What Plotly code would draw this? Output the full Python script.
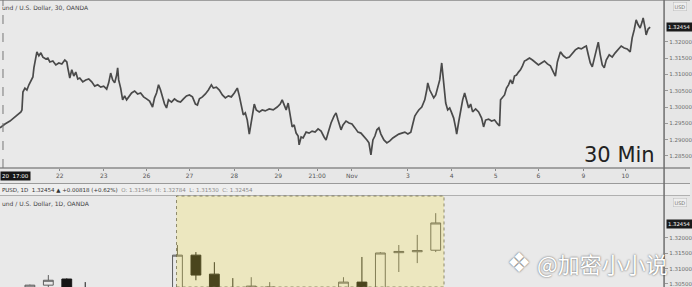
import plotly.graph_objects as go

# ---------------- data ----------------
# 30-minute GBP/USD closes (bar index along the top chart)
bar_index = [0,5,10,15,18,21,22,23,25,27,29,31,33,34,36,37,39,41,43,46,48,50,53,56,59,62,65,67,68,70,
             72,74,76,78,80,83,86,89,92,95,98,101,104,107,109,111,113,115,117,118,119,121,123,125,127,129,132,135,138,141,
             144,147,150,153,155,157,159,161,163,165,167,169,172,175,178,181,184,187,190,193,196,198,200,203,206,209,212,214,217,220,
             223,226,229,232,235,238,240,242,244,246,248,250,252,254,255,257,260,263,266,270,274,278,281,283,285,287,289,291,293,295,
             297,299,300,302,304,307,310,313,316,319,322,325,327,329,332,335,337,339,342,344,347,350,353,356,359,362,365,368,370,372,
             374,376,378,380,382,385,388,391,394,397,400,403,406,409,412,414,416,418,420,423,426,428,429,431,433,435,437,439,441,443,
             445,447,449,451,453,455,457,458,460,462,464,466,468,470,472,474,477,480,483,485,487,490,493,496,499,501,502,504,506,508,
             510,512,514,516,518,520,522,524,526,528,531,534,537,540,543,546,549,552,555,557,559,562,565,568,571,574,577,580,583,586,
             588,590,592,594,596,598,600,602,604,606,608,611,614,617,620,623,626,629,632,634,636,638,640,642,644,645,647,648,650,652]
close_30m = [1.2936,1.2948,1.2957,1.2969,1.2976,1.2985,1.2991,1.3046,1.3058,1.3052,1.3068,1.3083,1.3092,1.3120,1.3160,1.3169,1.3157,1.3166,1.3153,1.3147,
             1.3150,1.3138,1.3141,1.3129,1.3135,1.3132,1.3144,1.3138,1.3120,1.3089,1.3114,1.3095,1.3107,1.3086,1.3089,1.3077,1.3083,1.3086,1.3077,1.3064,
             1.3068,1.3061,1.3064,1.3055,1.3074,1.3104,1.3083,1.3074,1.3098,1.3120,1.3083,1.3058,1.3022,1.3034,1.3022,1.3031,1.3043,1.3049,1.3040,1.3043,
             1.3031,1.3025,1.3018,1.3000,1.3028,1.3043,1.3068,1.3052,1.3031,1.3009,1.2997,1.3022,1.3015,1.3025,1.3018,1.3015,1.3025,1.3034,1.3037,1.3031,
             1.3009,1.3006,1.3025,1.3031,1.3040,1.3052,1.3068,1.3058,1.3061,1.3052,1.3037,1.3028,1.3034,1.3031,1.3043,1.3058,1.3034,1.3003,1.2976,1.2982,
             1.2960,1.2917,1.2954,1.2991,1.3009,1.2991,1.2985,1.2991,1.2988,1.2994,1.2991,1.3000,1.3009,1.3022,1.3003,1.2991,1.3012,1.2976,1.2939,1.2945,
             1.2920,1.2911,1.2884,1.2908,1.2905,1.2923,1.2920,1.2926,1.2923,1.2933,1.2926,1.2908,1.2899,1.2920,1.2951,1.2972,1.2982,1.2960,1.2930,1.2945,
             1.2957,1.2951,1.2948,1.2936,1.2923,1.2920,1.2911,1.2899,1.2890,1.2853,1.2899,1.2911,1.2930,1.2936,1.2917,1.2899,1.2890,1.2896,1.2905,1.2911,
             1.2917,1.2920,1.2923,1.2917,1.2923,1.2948,1.2972,1.2982,1.2991,1.3000,1.3022,1.3052,1.3074,1.3052,1.3037,1.3028,1.3037,1.3058,1.3083,1.3135,
             1.3083,1.3012,1.2991,1.2997,1.2982,1.2966,1.2936,1.2917,1.2954,1.2991,1.3022,1.3043,1.3015,1.2997,1.3009,1.2985,1.2994,1.2985,1.2966,1.2939,
             1.2960,1.2963,1.2957,1.2960,1.2948,1.2942,1.3022,1.3031,1.3037,1.3058,1.3068,1.3083,1.3071,1.3095,1.3098,1.3107,1.3114,1.3126,1.3141,1.3144,
             1.3150,1.3144,1.3135,1.3129,1.3135,1.3141,1.3132,1.3126,1.3107,1.3095,1.3138,1.3169,1.3157,1.3150,1.3153,1.3166,1.3175,1.3181,1.3178,1.3184,
             1.3187,1.3160,1.3135,1.3123,1.3150,1.3175,1.3199,1.3160,1.3129,1.3120,1.3144,1.3160,1.3153,1.3166,1.3175,1.3187,1.3181,1.3178,1.3169,1.3212,
             1.3236,1.3267,1.3252,1.3242,1.3261,1.3273,1.3242,1.3221,1.3239,1.3245]
assert len(bar_index) == len(close_30m)

# Daily candles (only the ones whose tops show in the crop)
day_index = [0, 1, 2, 3, 8, 9, 10, 11, 12, 13, 17, 18, 19, 20, 21, 22]
d_open  = [1.3020, 1.3046, 1.3066, 1.2990, 1.2980, 1.3144, 1.3082, 1.3030, 1.3020, 1.3010, 1.3020, 1.3056, 1.3010, 1.3152, 1.3155, 1.3160]
d_high  = [1.3048, 1.3079, 1.3068, 1.3056, 1.3177, 1.3154, 1.3121, 1.3069, 1.3072, 1.3056, 1.3072, 1.3138, 1.3154, 1.3177, 1.3210, 1.3281]
d_low   = [1.3000, 1.3030, 1.2960, 1.2920, 1.2960, 1.3062, 1.2990, 1.2980, 1.3000, 1.2990, 1.3000, 1.2980, 1.2990, 1.3089, 1.3118, 1.3154]
d_close = [1.3046, 1.3062, 1.2990, 1.2950, 1.3144, 1.3079, 1.3010, 1.3000, 1.3043, 1.3040, 1.3056, 1.3000, 1.3151, 1.3156, 1.3159, 1.3249]

x_tick_pos  = [60, 104, 147, 190, 235, 279, 318, 353, 409, 453, 497, 540, 585, 627]
x_tick_text = ["22", "23", "26", "27", "28", "29", "21:00", "Nov", "3", "4", "5", "6", "9", "10"]
top_price_ticks = [1.285, 1.290, 1.295, 1.300, 1.305, 1.310, 1.315, 1.320]
bottom_price_ticks = [1.305, 1.310, 1.315, 1.320]
last_price = 1.32454
highlight_days = [7.95, 22.45]

# ---------------- figure ----------------
W, H = 692, 287
XR = 666 / W          # right edge of plot areas
TOP_Y0 = 1 - 168 / H  # bottom of 30m panel
BOT_Y1 = 1 - 196 / H  # top of daily panel
BG = "#e9e9e9"
FONT = "DejaVu Sans"

fig = go.Figure()

fig.add_trace(go.Scatter(
    x=bar_index, y=close_30m, mode="lines",
    line=dict(color="#4a4a4a", width=1.7),
    xaxis="x", yaxis="y", hoverinfo="skip"))

fig.add_trace(go.Candlestick(
    x=day_index, open=d_open, high=d_high, low=d_low, close=d_close,
    xaxis="x2", yaxis="y2",
    increasing=dict(line=dict(color="#5e5e5e", width=1), fillcolor=BG),
    decreasing=dict(line=dict(color="#1a1a1a", width=1), fillcolor="#151515"),
    whiskerwidth=0, hoverinfo="skip"))

tickfont = dict(family=FONT, size=5.5, color="#6a6a6a")

fig.update_layout(
    width=W, height=H, margin=dict(l=0, r=0, t=0, b=0),
    paper_bgcolor="#e6e6e6", plot_bgcolor=BG, showlegend=False,
    boxgap=0.24,
    xaxis=dict(domain=[0, XR], range=[0, 666], anchor="y",
               tickvals=x_tick_pos, ticktext=x_tick_text,
               ticks="outside", ticklen=2, tickcolor="#888",
               tickfont=dict(family=FONT, size=6, color="#555"),
               showgrid=False, zeroline=False, showline=False, fixedrange=True),
    yaxis=dict(domain=[TOP_Y0, 1], range=[1.2813, 1.3328], anchor="x", side="right",
               tickvals=top_price_ticks, tickformat=".5f",
               ticks="outside", ticklen=3, tickcolor="#999", tickfont=tickfont,
               showgrid=False, zeroline=False, showline=False),
    xaxis2=dict(domain=[0, XR], range=[-1.62, 34.38], anchor="y2",
                showticklabels=False, showgrid=False, zeroline=False,
                rangeslider=dict(visible=False)),
    yaxis2=dict(domain=[0, BOT_Y1], range=[1.3040, 1.3337], anchor="x2", side="right",
                tickvals=bottom_price_ticks, tickformat=".5f",
                ticks="outside", ticklen=3, tickcolor="#999", tickfont=tickfont,
                showgrid=False, zeroline=False, showline=False),
)

shapes = []
# x-axis band of the top chart
shapes.append(dict(type="rect", xref="paper", yref="paper", x0=0, x1=XR,
                   y0=1 - 183 / H, y1=TOP_Y0, fillcolor="#e7e7e7",
                   line=dict(width=0), layer="below"))
# header bar between panels
shapes.append(dict(type="rect", xref="paper", yref="paper", x0=0, x1=1,
                   y0=BOT_Y1, y1=1 - 184 / H, fillcolor="#eeeeee",
                   line=dict(width=0), layer="below"))
for yy, col, wd in [(168, "#8a8a8a", 1.5), (183.5, "#9a9a9a", 1), (195.5, "#b0b0b0", 1), (0.5, "#a0a0a0", 1)]:
    shapes.append(dict(type="line", xref="paper", yref="paper", x0=0, x1=1,
                       y0=1 - yy / H, y1=1 - yy / H, line=dict(color=col, width=wd)))
# right price-scale border
shapes.append(dict(type="line", xref="paper", yref="paper", x0=XR, x1=XR, y0=0, y1=1,
                   line=dict(color="#6e6e6e", width=1.5)))
# crosshair in the top chart
shapes.append(dict(type="line", xref="paper", yref="paper", x0=3 / W, x1=3 / W,
                   y0=TOP_Y0, y1=1, line=dict(color="#777", width=1, dash="dash")))
# highlighted zone on the daily chart
shapes.append(dict(type="rect", xref="x2", yref="paper",
                   x0=highlight_days[0], x1=highlight_days[1], y0=0, y1=BOT_Y1,
                   fillcolor="rgba(245,225,60,0.24)",
                   line=dict(color="rgba(110,105,70,0.75)", width=1, dash="dot"),
                   layer="above"))
fig.update_layout(shapes=shapes)

ann = []
ann.append(dict(text="und / U.S. Dollar, 30, OANDA", xref="paper", yref="paper",
                x=0, y=1 - 7 / H, xanchor="left", yanchor="middle", showarrow=False,
                font=dict(family=FONT, size=6, color="#444")))
ann.append(dict(text="und / U.S. Dollar, 1D, OANDA", xref="paper", yref="paper",
                x=0, y=1 - 203 / H, xanchor="left", yanchor="middle", showarrow=False,
                font=dict(family=FONT, size=6, color="#444")))
ann.append(dict(text="<span style='color:#333'>PUSD, 1D  1.32454 ▲ +0.00818 (+0.62%)</span>"
                     "  O: 1.31546  H: 1.32784  L: 1.31530  C: 1.32454",
                xref="paper", yref="paper", x=0, y=1 - 190 / H, xanchor="left",
                yanchor="middle", showarrow=False,
                font=dict(family=FONT, size=5.5, color="#8a8a8a")))
ann.append(dict(text="20  17:00", xref="paper", yref="paper", x=0, y=1 - 176 / H,
                xanchor="left", yanchor="middle", showarrow=False, bgcolor="#161616",
                borderpad=1, font=dict(family=FONT, size=5.5, color="#ffffff")))
ann.append(dict(text="30 Min", xref="paper", yref="paper", x=659 / W, y=1 - 155 / H,
                xanchor="right", yanchor="middle", showarrow=False,
                font=dict(family=FONT, size=21, color="#222222")))
for yref in ["y", "y2"]:
    ann.append(dict(text=f"{last_price:.5f}", xref="paper", yref=yref,
                    x=XR + 0.003, y=last_price, xanchor="left", yanchor="middle",
                    showarrow=False, bgcolor="#1b1b1b", borderpad=1,
                    font=dict(family=FONT, size=5.3, color="#ffffff")))
for ypix in [6, 202]:
    ann.append(dict(text="USD", xref="paper", yref="paper", x=(W - 10) / W, y=1 - ypix / H,
                    xanchor="center", yanchor="middle", showarrow=False,
                    bgcolor="#eeeeee", bordercolor="#bbbbbb", borderwidth=0.5, borderpad=1,
                    font=dict(family=FONT, size=5, color="#777")))
# watermark
ann.append(dict(text="❖", xref="paper", yref="paper", x=521 / W, y=1 - 262 / H,
                xanchor="center", yanchor="middle", showarrow=False,
                font=dict(family="DejaVu Sans", size=27, color="#ffffff",
                          shadow="0px 0px 2px rgba(0,0,0,0.7)")))
ann.append(dict(text="@加密小小说", xref="paper", yref="paper", x=537 / W, y=1 - 263 / H,
                xanchor="left", yanchor="middle", showarrow=False,
                font=dict(family="Noto Sans CJK SC", size=22, color="#ffffff",
                          shadow="0px 0px 2px rgba(0,0,0,0.7)")))
fig.update_layout(annotations=ann)

fig.write_html("out.html")
